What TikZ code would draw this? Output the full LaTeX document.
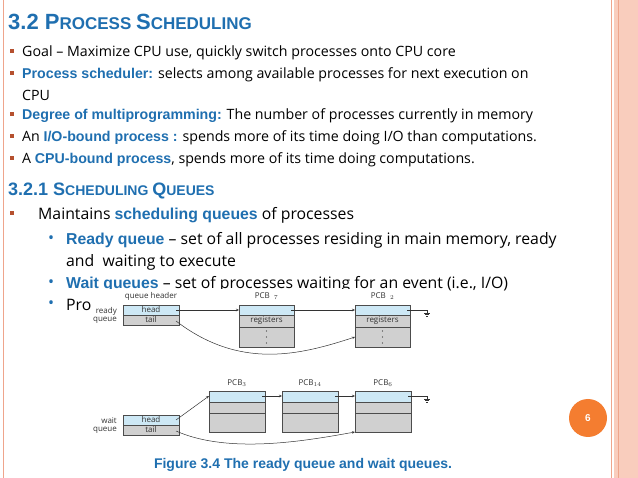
\documentclass[tikz,border=0pt]{standalone}
\usepackage{fontspec}
\setmainfont{Open Sans}
\newfontfamily\hd{Liberation Sans}
\usetikzlibrary{arrows.meta}
\definecolor{hblue}{HTML}{1F6FB0}
\definecolor{cblue}{HTML}{CDE8F5}
\definecolor{cgray}{HTML}{D0D0D0}
\definecolor{pinkb}{HTML}{F9CDBD}
\definecolor{pinkl}{HTML}{EFA58C}
\definecolor{orng}{HTML}{F47D30}
\definecolor{bulc}{HTML}{B5502F}
\begin{document}
\begin{tikzpicture}[x=1pt,y=-1pt,
  body/.style={anchor=west,inner sep=0,font=\fontsize{14.2}{16}\selectfont},
  sub/.style={anchor=west,inner sep=0,font=\fontsize{15.8}{17}\selectfont},
  bul/.style={fill=bulc,inner sep=0,minimum size=4.5pt},
  cell/.style={draw=black!70,line width=0.4pt},
  lbl/.style={inner sep=0,font=\fontsize{8}{8.5}\selectfont,text=black!80},
  arr/.style={-{Stealth[length=3pt,width=2.5pt]},line width=0.5pt,black!80}]
\useasboundingbox (0,0) rectangle (638,478);
\fill[white] (0,0) rectangle (638,478);
\fill[pinkb] (614,0) rectangle (638,478);
\draw[pinkl,line width=0.8pt] (3,0) -- (3,478);
\draw[pinkl,line width=0.8pt] (611,0) -- (611,478);
\draw[pinkl,line width=0.8pt] (618,0) -- (618,478);
% title
\node[anchor=west,inner sep=0,text=hblue] (t) at (8,22) {\hd\bfseries\fontsize{22}{24}\selectfont 3.2 P\fontsize{17}{18}\selectfont ROCESS \fontsize{22}{24}\selectfont S\fontsize{17}{18}\selectfont CHEDULING};
\foreach \y in {51,73,114,136,158} \node[bul] at (12,\y) {};
\node[body] (b1) at (22,53) {Goal -- Maximize CPU use, quickly switch processes onto CPU core};
\node[body] (b2) at (22,75) {{\hd\bfseries\color{hblue}Process scheduler:} selects among available processes for next execution on};
\node[body] (b2b) at (22,95) {CPU};
\node[body] (b3) at (22,116) {{\hd\bfseries\color{hblue}Degree of multiprogramming:} The number of processes currently in memory};
\node[body] (b4) at (22,138) {An {\hd\bfseries\color{hblue}I/O-bound process :} spends more of its time doing I/O than computations.};
\node[body] (b5) at (22,160) {A {\hd\bfseries\color{hblue}CPU-bound process}, spends more of its time doing computations.};
\node[anchor=west,inner sep=0,text=hblue] (t2) at (8,191) {\hd\bfseries\fontsize{18}{19}\selectfont 3.2.1 S\fontsize{14}{15}\selectfont CHEDULING \fontsize{18}{19}\selectfont Q\fontsize{14}{15}\selectfont UEUES};
\node[bul] at (12,213) {};
\node[sub] (m) at (38,215) {Maintains {\hd\bfseries\color{hblue}scheduling queues} of processes};
\foreach \y in {240,284,305} \node[anchor=west,inner sep=0,text=hblue,font=\fontsize{16}{16}\selectfont] at (48,\y) {•};
\node[sub] (s1) at (66,240) {{\hd\bfseries\color{hblue}Ready queue} -- set of all processes residing in main memory, ready};
\node[sub] (s1b) at (66,262) {and\ \ waiting to execute};
\node[sub] (s2) at (66,284) {{\hd\bfseries\color{hblue}Wait queues} -- set of processes waiting for an event (i.e., I/O)};
\node[sub] (s3) at (66,305) {Pro};
% ---- diagram: ready queue
\fill[white] (100,289) rectangle (440,350);
\filldraw[cell,fill=cblue] (123,305) rectangle (179,315);
\filldraw[cell,fill=cgray] (123,315) rectangle (179,325);
\node[lbl] at (151,310) {head};
\node[lbl] at (151,320) {tail};
\node[lbl] (qh) at (151,296) {queue header};
\node[lbl,align=right,anchor=east] at (117,315.5) {ready\\queue};
\coordinate (hr) at (176,310);
\coordinate (tr) at (176,321);
\foreach \n/\x/\l in {p7/239/PCB\ \ $_7$,p2/355/PCB\ \ $_2$}{
  \filldraw[cell,fill=cblue] (\x,305) rectangle ++(55,10);
  \filldraw[cell,fill=cgray] (\x,315) rectangle ++(55,12);
  \filldraw[cell,fill=cgray] (\x,327) rectangle ++(55,20);
  \node[lbl] at (\x+27.5,321) {registers};
  \node[lbl] at (\x+27.5,296) {\l};
  \foreach \d in {331,337,343} \fill[black!80] (\x+27.5,\d) circle (0.7);
  \coordinate (\n L) at (\x,310);
  \coordinate (\n R) at (\x+52,310);
  \coordinate (\n B) at (\x,337);
}
\draw[arr] (hr) -- (p7L);
\draw[arr] (p7R) -- (p2L);
\draw[arr] (tr) .. controls (240,370) and (300,355) .. (p2B);
\coordinate (g1) at (427,310);
\draw[black!80,line width=0.5pt] (p2R) -- (g1) -- (427,313);
\draw[black!80,line width=0.5pt] (424,313) -- (430,313) (425,314.5) -- (429,314.5) (426,316) -- (428,316);
% ---- wait queue
\filldraw[cell,fill=cblue] (123,415) rectangle (179,425);
\filldraw[cell,fill=cgray] (123,425) rectangle (179,435);
\node[lbl] at (151,420) {head};
\node[lbl] at (151,430) {tail};
\node[lbl,align=right,anchor=east] at (117,425.5) {wait\\queue};
\coordinate (hw) at (176,420);
\coordinate (tw) at (176,431);
\foreach \n/\x/\l in {p3/209/PCB$_3$,p14/282/PCB$_{14}$,p6/355/PCB$_6$}{
  \filldraw[cell,fill=cblue] (\x,391) rectangle ++(56,11);
  \filldraw[cell,fill=cgray] (\x,402) rectangle ++(56,11);
  \filldraw[cell,fill=cgray] (\x,413) rectangle ++(56,19);
  \node[lbl] at (\x+28,383) {\l};
  \coordinate (\n L) at (\x,396);
  \coordinate (\n R) at (\x+53,396);
  \coordinate (\n B) at (\x,432);
}
\draw[arr] (hw) -- (p3L);
\draw[arr] (p3R) -- (p14L);
\draw[arr] (p14R) -- (p6L);
\draw[arr] (tw) .. controls (230,455) and (310,440) .. (p6B);
\coordinate (g2) at (427,396);
\draw[black!80,line width=0.5pt] (p6R) -- (g2) -- (427,399);
\draw[black!80,line width=0.5pt] (424,399) -- (430,399) (425,400.5) -- (429,400.5) (426,402) -- (428,402);
% page number
\node[circle,fill=orng,minimum size=38pt,inner sep=0,text=white,font=\hd\bfseries\fontsize{10}{10}\selectfont] (pg) at (588,418) {6};
\node[inner sep=0,text=hblue,font=\hd\bfseries\fontsize{14}{15}\selectfont] (cap) at (303,465) {Figure 3.4 The ready queue and wait queues.};
\end{tikzpicture}
\end{document}
